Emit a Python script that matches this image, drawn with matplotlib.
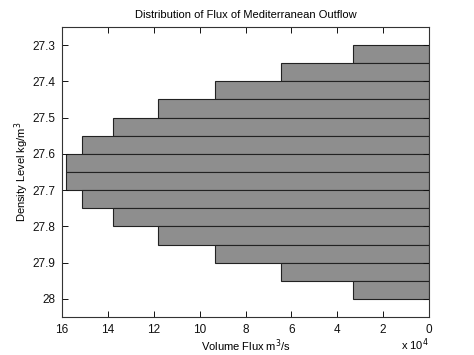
import matplotlib
matplotlib.use('Agg')
import matplotlib.pyplot as plt
import numpy as np

plt.rcParams['font.family'] = ['Liberation Sans', 'DejaVu Sans']

# density bins (lower edge, kg/m^3) and volume flux (x 10^4 m^3/s)
density_edges = [27.30, 27.35, 27.40, 27.45, 27.50, 27.55, 27.60,
                 27.65, 27.70, 27.75, 27.80, 27.85, 27.90, 27.95]
flux = [3.30, 6.45, 9.33, 11.81, 13.76, 15.11, 15.81,
        15.81, 15.11, 13.76, 11.81, 9.33, 6.45, 3.30]
yticks = [27.3, 27.4, 27.5, 27.6, 27.7, 27.8, 27.9, 28.0]
ytick_labels = ['27.3', '27.4', '27.5', '27.6', '27.7', '27.8', '27.9', '28']
xticks = [16, 14, 12, 10, 8, 6, 4, 2, 0]

fig = plt.figure(figsize=(4.74, 3.55), dpi=100)
ax = fig.add_axes([0.1308, 0.107, 0.7743, 0.817])

ax.barh(density_edges, flux, height=0.05, align='edge',
        color='#8e8e8e', edgecolor='#222222', linewidth=0.8)

ax.set_xlim(16, 0)
ax.set_ylim(28.05, 27.25)
ax.set_xticks(xticks)
ax.set_xticklabels([str(t) for t in xticks])
ax.set_yticks(yticks)
ax.set_yticklabels(ytick_labels)
ax.tick_params(direction='in', top=True, right=True, length=4, width=0.7,
               labelsize=8.5, colors='#111111', pad=5)
for s in ax.spines.values():
    s.set_linewidth(0.8)
    s.set_color('#333333')

ax.set_title('Distribution of Flux of Mediterranean Outflow', fontsize=8, pad=6.5)
ax.set_xlabel('Volume Flux m$^3$/s', fontsize=8, labelpad=1)
ax.set_ylabel('Density Level kg/m$^3$', fontsize=8, labelpad=0.5)
fig.text(0.905, 0.014, 'x 10$^4$', ha='right', va='baseline', fontsize=8)

plt.savefig('out.png', dpi=100)
